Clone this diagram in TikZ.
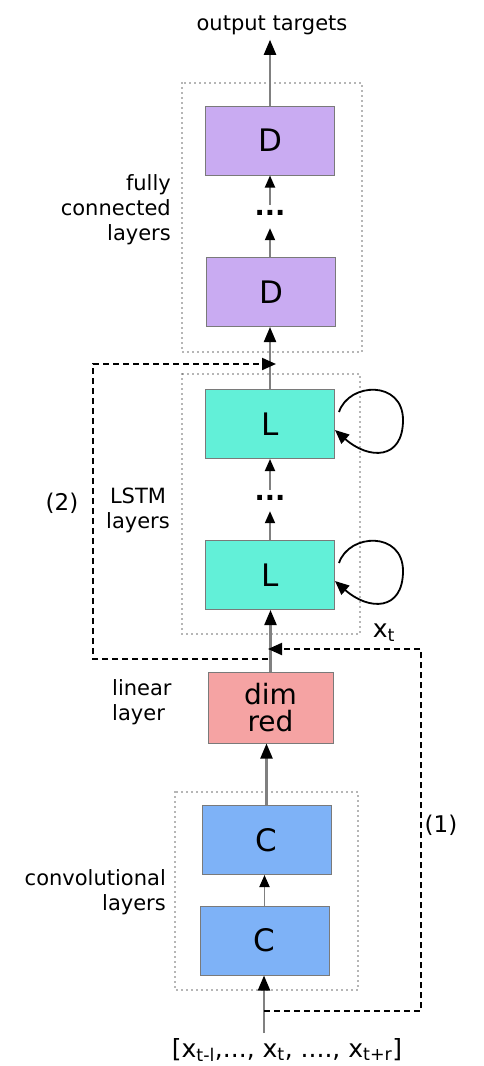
\documentclass[tikz,border=0pt]{standalone}
\usepackage{fontspec}
\setmainfont{DejaVu Sans}
\usetikzlibrary{arrows.meta}
\definecolor{dcol}{HTML}{C9ABF2}
\definecolor{lcol}{HTML}{62F0D8}
\definecolor{rcol}{HTML}{F5A3A3}
\definecolor{ccol}{HTML}{7EB2F7}
\definecolor{ecol}{HTML}{7A7A7A}
\begin{document}
\begin{tikzpicture}[x=1pt,y=-1pt]
\tikzstyle{bx} = [draw=ecol,line width=1pt,minimum width=129pt,minimum height=69pt,inner sep=0pt,align=center,font=\fontsize{31}{32}\selectfont] %layer box
\tikzstyle{lb} = [inner sep=0pt,font=\fontsize{21}{25}\selectfont] %label
\tikzstyle{dt} = [inner sep=0pt,minimum height=16pt,text height=4pt,text depth=0pt,font=\fontsize{27}{30}\selectfont\bfseries] %dots
\tikzstyle{ar} = [draw=gray,line width=2.2pt,-{Triangle[color=black,length=15pt,width=12pt]}] %arrow
\tikzstyle{sa} = [draw=gray,line width=1.8pt,-{Triangle[color=black,length=12pt,width=10pt]}] %small arrow
\tikzstyle{dl} = [black,line width=2pt,dash pattern=on 6pt off 4pt,-{Triangle[length=14pt,width=12pt]}] %dashed link
\tikzstyle{lp} = [black,line width=1.8pt,-{Triangle[length=14pt,width=12pt]}] %self loop
\tikzstyle{gp} = [gray!85!black,line width=1.7pt,line cap=round,dash pattern=on 0pt off 5pt] %dotted group
\fill[white](0,0)rectangle(484,1066);
\useasboundingbox(0,0)rectangle(484,1066);
% groups
\draw[gp](182,83)rectangle(362,352);
\draw[gp](182,374)rectangle(360,634);
\draw[gp](175,792)rectangle(358,990);
% layers
\node[bx,fill=dcol](dt)at(270,140.5){D};
\node[dt](fd)at(270,213){...};
\node[bx,fill=dcol](db)at(271,292){D};
\node[bx,fill=lcol](lt)at(270,424){L};
\node[dt](ld)at(270,498){...};
\node[bx,fill=lcol](lb)at(270,575){L};
\node[bx,fill=rcol,minimum width=125pt,minimum height=71pt,font=\fontsize{28}{31}\selectfont](dr)at(270.5,707.5){dim\\[-4pt]red};
\node[bx,fill=ccol](ct)at(266.5,840){C};
\node[bx,fill=ccol](cb)at(264.5,940.5){C};
% texts
\node[lb](out)at(272,25){output targets};
\node[lb,anchor=east,align=right](fl)at(171,210){fully\\connected\\layers};
\node[lb,align=center](ll)at(138,510){LSTM\\layers};
\node[lb,anchor=west,align=left](rl)at(112,702){linear\\layer};
\node[lb,anchor=east,align=right](cl)at(166,892){convolutional\\layers};
\node[lb,font=\fontsize{23}{25}\selectfont](n2)at(62,503){(2)};
\node[lb,font=\fontsize{23}{25}\selectfont](n1)at(441,825){(1)};
\node[lb,font=\fontsize{25}{27}\selectfont](xt)at(384,633){x\textsubscript{t}};
\node[lb,font=\fontsize{25}{27}\selectfont](in)at(287,1050){[x\textsubscript{t-l},..., x\textsubscript{t}, ...., x\textsubscript{t+r}]};
\coordinate(ib)at(264,1033);
\coordinate(s1)at(264,1011);
\coordinate(e1)at(268,649);
\coordinate(s2)at(268,659);
\coordinate(e2)at(276,364);
% connections
\draw[ar](dt.north)--(dt.north|-out.south)[shorten >=5pt];
\draw[sa](fd.north)--(dt.south);
\draw[sa](db.north-|fd)--(fd.south)[shorten >=7pt];
\draw[ar](lt.north)--(lt.north|-db.south);
\draw[sa](ld.north)--(lt.south);
\draw[sa](lb.north)--(ld.south)[shorten >=5pt];
\draw[ar](dr.north)--(dr.north|-lb.south);
\draw[ar](ct.north)--(ct.north|-dr.south);
\draw[sa](cb.north)--(cb.north|-ct.south);
\draw[ar](ib)--(ib|-cb.south);
\draw[dl](s1)-|(421,649)--(e1);
\draw[dl](s2)-|(93,364)--(e2);
\draw[lp]([shift={(4,-12)}]lt.east)..controls +(10,-30) and +(0,-40)..([shift={(68,-4)}]lt.east)..controls +(0,40) and +(34,30)..([shift={(0,6)}]lt.east);
\draw[lp]([shift={(4,-12)}]lb.east)..controls +(10,-30) and +(0,-40)..([shift={(68,-4)}]lb.east)..controls +(0,40) and +(34,30)..([shift={(0,6)}]lb.east);
\end{tikzpicture}
\end{document}
